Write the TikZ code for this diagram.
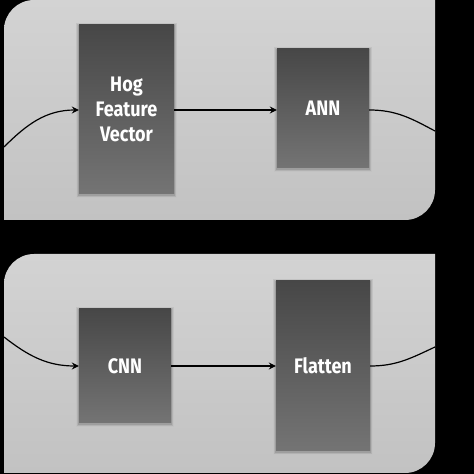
\documentclass[tikz,border=0pt]{standalone}
\usepackage{fontspec}
\setmainfont{Fira Sans}[FakeStretch=0.86]
\usetikzlibrary{arrows.meta,backgrounds}
\definecolor{pnltop}{HTML}{D3D3D3}
\definecolor{pnlbot}{HTML}{C2C2C2}
\definecolor{boxtop}{HTML}{474747}
\definecolor{boxbot}{HTML}{747474}
\begin{document}
\begin{tikzpicture}[x=1pt,y=1pt,
    block/.style={rectangle, inner sep=0pt, top color=boxtop, bottom color=boxbot,
      text=white, align=center, font=\fontsize{21}{25}\selectfont\bfseries},
    link/.style={line width=1.2pt, >={Stealth[length=7pt,width=7pt,inset=2.5pt]}}]
  \begin{scope}[on background layer]
    \fill[black] (0,0) rectangle (474,474);
    % upper panel
    \shade[top color=pnltop, bottom color=pnlbot] (435,474) -- (34,474)
      arc[start angle=90, end angle=180, radius=30] -- (4,254) -- (405,254)
      arc[start angle=-90, end angle=0, radius=30] -- cycle;
    % lower panel
    \shade[top color=pnltop, bottom color=pnlbot] (4,1) -- (4,190)
      arc[start angle=180, end angle=90, radius=30] -- (435,220) -- (435,31)
      arc[start angle=0, end angle=-90, radius=30] -- cycle;
  \end{scope}
  \useasboundingbox (0,0) rectangle (474,474);
  % boxes
  \node[block, minimum width=95, minimum height=169] (hog) at (126.5,364.5) {Hog\\Feature\\Vector};
  \node[block, minimum width=92, minimum height=119] (ann) at (323,365.5) {ANN};
  \node[block, minimum width=92, minimum height=114] (cnn) at (125,108) {CNN};
  \node[block, minimum width=94, minimum height=170] (flat) at (323,108) {Flatten};
  % soft shadows
  \begin{scope}[on background layer]
    \foreach \n in {hog,ann,cnn,flat}
      \foreach \d/\c in {3/24,2/30,1/38}
        \fill[black!\c] ([xshift=-\d pt, yshift=-\d pt-1pt]\n.south west)
          rectangle ([xshift=\d pt, yshift=\d pt-1pt]\n.north east);
  \end{scope}
  \coordinate (in1) at (4,327);
  \coordinate (out1) at (435,343);
  \coordinate (in2) at (4,137);
  \coordinate (out2) at (435,127);
  % connectors
  \draw[link, ->] (in1) to[out=45, in=180] (hog.west |- 0,364);
  \draw[link, ->] (hog.east |- 0,364) -- (ann.west |- 0,364);
  \draw[link] (ann.east |- 0,364) to[out=0, in=152] (out1);
  \draw[link, ->] (in2) to[out=-38, in=180] (cnn.west);
  \draw[link, ->] (cnn.east) -- (flat.west);
  \draw[link] (flat.east) to[out=0, in=205] (out2);
\end{tikzpicture}
\end{document}
